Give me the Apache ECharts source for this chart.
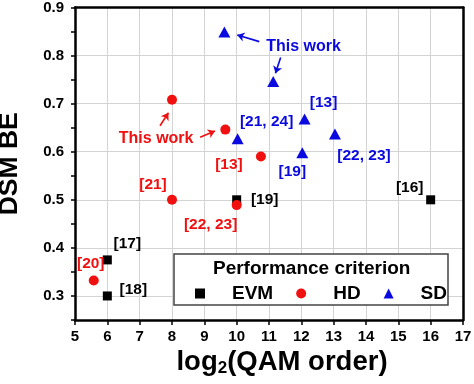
<!DOCTYPE html>
<html><head><meta charset="utf-8">
<script src="https://cdn.jsdelivr.net/npm/echarts@6/dist/echarts.min.js"></script>
<style>html,body{margin:0;padding:0;background:#fff}#c{width:474px;height:384px}</style>
</head><body><div id="c"></div>
<script>
// ---- data ----
const xTickValues = [5,6,7,8,9,10,11,12,13,14,15,16,17];
const yTickLabels = ['0.3','0.4','0.5','0.6','0.7','0.8','0.9'];
const seriesNames = ['EVM','HD','SD'];
const evmPoints = [[6,0.375],[6,0.30],[10,0.50],[16,0.50]];
const evmLabels = ['[17]','[18]','[19]','[16]'];
const hdPoints = [[8,0.708],[9.65,0.646],[8,0.50],[10.75,0.59],[10,0.489],[5.58,0.332]];
const hdLabels = ['','','[21]','[13]','[22, 23]','[20]'];
const sdPoints = [[9.62,0.849],[11.13,0.746],[10.03,0.627],[12.1,0.668],[12.03,0.598],[13.04,0.637]];
const sdLabels = ['','','[21, 24]','[13]','[19]','[22, 23]'];
const annotationText = 'This work';

// ---- layout (label offsets in px, annotation anchors in data space) ----
const evmOffsets = [[20,-16],[26,-6],[28,0],[-21,-12]];
const hdOffsets = [[0,0],[0,0],[-19,-15],[-32,8],[-26,20],[-3,-17]];
const sdOffsets = [[0,0],[0,0],[29,-17],[19,-16],[-10,19],[29,22]];
const hdArrows = [[[7.63,0.654],[7.89,0.681]],[[8.87,0.630],[9.33,0.643]]];
const hdNoteAt = [7.51,0.628];
const sdArrows = [[[10.70,0.829],[10.02,0.843]],[[11.36,0.796],[11.20,0.763]]];
const sdNoteAt = [12.07,0.819];

const FF = 'Liberation Sans, Arial, sans-serif';
const RED = '#f01010', BLUE = '#0a0ae0', BLACK = '#000';

function items(pts, offs) {
  return pts.map((p, i) => ({ value: p, label: { offset: offs[i] } }));
}
function lbl(color, labels) {
  return { show: true, position: 'inside', color: color, fontFamily: FF, fontWeight: 'bold', fontSize: 15.5,
           formatter: p => labels[p.dataIndex] };
}
function arrows(list, color) {
  return {
    silent: true, symbol: ['none', 'arrow'], symbolSize: 7, label: { show: false },
    lineStyle: { color: color, width: 1.6, type: 'solid', opacity: 1 }, emphasis: { disabled: true },
    data: list.map(a => [{ coord: a[0] }, { coord: a[1] }])
  };
}
function note(at, color) {
  return {
    silent: true, symbol: 'circle', symbolSize: 0,
    label: { show: true, position: 'inside', formatter: annotationText, color: color,
             fontFamily: FF, fontWeight: 'bold', fontSize: 16 },
    data: [{ coord: at }]
  };
}

const chart = echarts.init(document.getElementById('c'), null, { renderer: 'canvas' });
const axisLineStyle = { color: BLACK, width: 2.5 };
chart.setOption({
  animation: false,
  backgroundColor: '#fff',
  grid: { left: 75, right: 11, top: 7.5, bottom: 64, containLabel: false, outerBoundsMode: 'none' },
  xAxis: [{
    type: 'value', min: xTickValues[0], max: xTickValues[xTickValues.length - 1], interval: 1,
    axisLine: { lineStyle: axisLineStyle },
    axisTick: { length: 5, lineStyle: { color: BLACK, width: 1.5 } },
    axisLabel: { color: BLACK, fontFamily: FF, fontWeight: 'bold', fontSize: 15, margin: 9 },
    splitLine: { lineStyle: { color: '#d4d4d4', width: 1 } },
    name: '{a|log}{b|2}{a|(QAM order)}', nameLocation: 'middle', nameGap: 26,
    nameTextStyle: { padding: [0, 0, 0, 26], rich: {
      a: { fontFamily: FF, fontWeight: 'bold', fontSize: 27.5, color: BLACK },
      b: { fontFamily: FF, fontWeight: 'bold', fontSize: 17, color: BLACK, verticalAlign: 'bottom' }
    } }
  }, {
    type: 'value', position: 'top', min: 5, max: 17,
    axisLine: { lineStyle: axisLineStyle }, axisTick: { show: false }, axisLabel: { show: false }, splitLine: { show: false }
  }],
  yAxis: [{
    type: 'value', min: 0.25, max: 0.9, interval: 0.05,
    axisLine: { lineStyle: axisLineStyle },
    axisTick: { length: 4, lineStyle: { color: BLACK, width: 1.5 } },
    axisLabel: { color: BLACK, fontFamily: FF, fontWeight: 'bold', fontSize: 15, margin: 11,
      formatter: v => { const k = Math.round(v * 100); return k % 10 === 0 ? yTickLabels[(k - 30) / 10] || '' : ''; } },
    splitLine: { lineStyle: { color: ['transparent', '#d4d4d4'], width: 1 } },
    name: 'DSM BE', nameLocation: 'middle', nameGap: 52,
    nameTextStyle: { fontFamily: FF, fontWeight: 'bold', fontSize: 26.5, color: BLACK }
  }, {
    type: 'value', position: 'right', min: 0.25, max: 0.9,
    axisLine: { lineStyle: axisLineStyle }, axisTick: { show: false }, axisLabel: { show: false }, splitLine: { show: false }
  }],
  legend: {
    data: seriesNames, left: 195, top: 284, padding: 0, itemWidth: 10, itemHeight: 10, itemGap: 23,
    formatter: name => '{s|}' + name,
    textStyle: { color: BLACK, fontFamily: FF, fontWeight: 'bold', fontSize: 19,
                 rich: { s: { width: 22 } } },
    z: 5, selectedMode: false
  },
  graphic: [
    { type: 'rect', z: 4, shape: { x: 174, y: 254, width: 274, height: 51 },
      style: { fill: '#fff', stroke: '#444', lineWidth: 1.5 } },
    { type: 'text', z: 5, x: 311.7, y: 268.5,
      style: { text: 'Performance criterion', fill: BLACK, align: 'center', verticalAlign: 'middle',
               font: 'bold 19px ' + FF } }
  ],
  series: [
    { name: seriesNames[0], type: 'scatter', symbol: 'rect', symbolSize: 9,
      itemStyle: { color: BLACK, opacity: 1 },
      data: items(evmPoints, evmOffsets), label: lbl(BLACK, evmLabels) },
    { name: seriesNames[1], type: 'scatter', symbol: 'circle', symbolSize: 10,
      itemStyle: { color: RED, opacity: 1 },
      data: items(hdPoints, hdOffsets), label: lbl(RED, hdLabels),
      markLine: arrows(hdArrows, RED), markPoint: note(hdNoteAt, RED) },
    { name: seriesNames[2], type: 'scatter', symbol: 'triangle', symbolSize: [12, 11],
      itemStyle: { color: BLUE, opacity: 1 },
      data: items(sdPoints, sdOffsets), label: lbl(BLUE, sdLabels),
      markLine: arrows(sdArrows, BLUE), markPoint: note(sdNoteAt, BLUE) }
  ]
});
</script></body></html>
